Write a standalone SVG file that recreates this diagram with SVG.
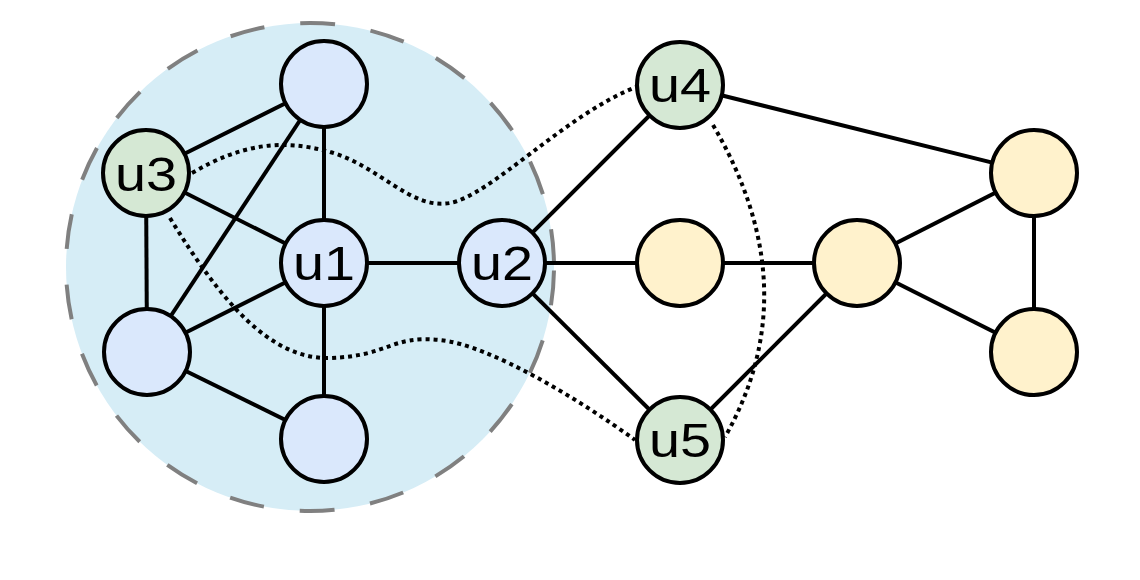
<svg xmlns="http://www.w3.org/2000/svg" width="1140" height="580" viewBox="0 0 1140 580">
  <style>
    .edge { stroke: #000000; stroke-width: 4; fill: none; }
    .dot { stroke: #000000; stroke-width: 4; fill: none; stroke-dasharray: 4 4; }
    .node { stroke: #000000; stroke-width: 4; }
    .blue { fill: #dae8fc; }
    .green { fill: #d5e8d4; }
    .yellow { fill: #fff2cc; }
    .lbl { font-family: "Liberation Sans", Arial, sans-serif; font-size: 48px; fill: #000000; text-anchor: middle; }
  </style>
  <rect x="0" y="0" width="1140" height="580" fill="#ffffff"/>
  <g id="community">
    <circle cx="310" cy="267" r="244" fill="#d6edf6" stroke="#808080" stroke-width="4" stroke-dasharray="35 36" stroke-dashoffset="67.5"/>
  </g>
  <g id="connectors">
    <line class="edge" x1="324" y1="84" x2="146" y2="173"/>
    <line class="edge" x1="324" y1="84" x2="147" y2="352"/>
    <line class="edge" x1="324" y1="84" x2="324" y2="263"/>
    <line class="edge" x1="146" y1="173" x2="324" y2="263"/>
    <line class="edge" x1="146" y1="173" x2="147" y2="352"/>
    <line class="edge" x1="147" y1="352" x2="324" y2="263"/>
    <line class="edge" x1="147" y1="352" x2="324" y2="439"/>
    <line class="edge" x1="324" y1="263" x2="324" y2="439"/>
    <line class="edge" x1="324" y1="263" x2="502" y2="263"/>
    <line class="edge" x1="502" y1="263" x2="680" y2="85"/>
    <line class="edge" x1="502" y1="263" x2="680" y2="263"/>
    <line class="edge" x1="502" y1="263" x2="680" y2="440"/>
    <line class="edge" x1="680" y1="263" x2="857" y2="263"/>
    <line class="edge" x1="680" y1="85" x2="1034" y2="173"/>
    <line class="edge" x1="857" y1="263" x2="1034" y2="173"/>
    <line class="edge" x1="857" y1="263" x2="1034" y2="352"/>
    <line class="edge" x1="1034" y1="173" x2="1034" y2="352"/>
    <line class="edge" x1="680" y1="440" x2="857" y2="263"/>
    <path class="dot" d="M192,173 C240,145 280,138 330,152 S410,210 450,203 S565,115 636,87"/>
    <path class="dot" d="M170,218 C220,300 270,360 330,358 S390,335 440,340 S580,400 635,440"/>
    <path class="dot" d="M713,125 Q809,289 725,437"/>
  </g>
  <g id="n_top"><circle class="node blue" cx="324" cy="84" r="43"/></g>
  <g id="n_u3"><circle class="node green" cx="146" cy="173" r="43"/><text class="lbl" x="146" y="191" textLength="62" lengthAdjust="spacingAndGlyphs">u3</text></g>
  <g id="n_u1"><circle class="node blue" cx="324" cy="263" r="43"/><text class="lbl" x="324" y="280" textLength="62" lengthAdjust="spacingAndGlyphs">u1</text></g>
  <g id="n_u2"><circle class="node blue" cx="502" cy="263" r="43"/><text class="lbl" x="502" y="280" textLength="62" lengthAdjust="spacingAndGlyphs">u2</text></g>
  <g id="n_ll"><circle class="node blue" cx="147" cy="352" r="43"/></g>
  <g id="n_bottom"><circle class="node blue" cx="324" cy="439" r="43"/></g>
  <g id="n_u4"><circle class="node green" cx="680" cy="85" r="43"/><text class="lbl" x="680" y="102" textLength="62" lengthAdjust="spacingAndGlyphs">u4</text></g>
  <g id="n_mid"><circle class="node yellow" cx="680" cy="263" r="43"/></g>
  <g id="n_u5"><circle class="node green" cx="680" cy="440" r="43"/><text class="lbl" x="680" y="457" textLength="62" lengthAdjust="spacingAndGlyphs">u5</text></g>
  <g id="n_rc"><circle class="node yellow" cx="857" cy="263" r="43"/></g>
  <g id="n_tr"><circle class="node yellow" cx="1034" cy="173" r="43"/></g>
  <g id="n_br"><circle class="node yellow" cx="1034" cy="352" r="43"/></g>
</svg>
